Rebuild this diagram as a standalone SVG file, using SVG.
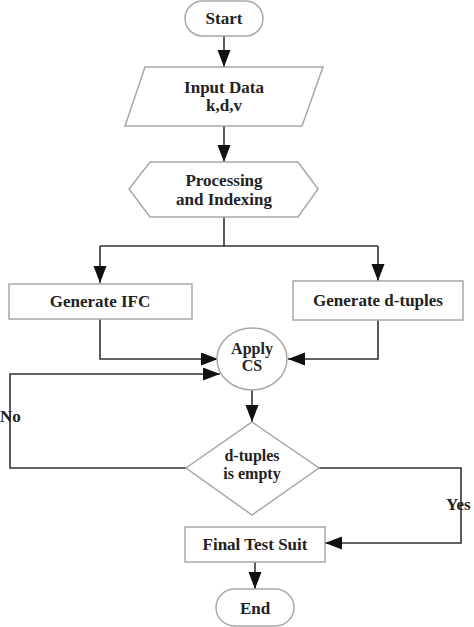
<svg xmlns="http://www.w3.org/2000/svg" width="474" height="627" viewBox="0 0 474 627">
<style>
.node{fill:#fff;stroke:#a8a8a8;stroke-width:1.5}
.t{font-family:"Liberation Serif","Times New Roman",serif;font-weight:bold;font-size:17px;fill:#222;text-anchor:middle}
.s{font-size:16px}
.lbl{font-family:"Liberation Serif","Times New Roman",serif;font-weight:bold;font-size:17px;fill:#222}
.c{fill:none;stroke:#333;stroke-width:1.6}
</style>
<defs>
<marker id="ah" markerUnits="userSpaceOnUse" markerWidth="18" markerHeight="14" refX="17" refY="6.5" orient="auto">
<path d="M0,0 L17,6.5 L0,13 Z" fill="#111"/>
</marker>
</defs>
<rect width="474" height="627" fill="#fff"/>
<g id="connectors">
<path class="c" d="M224,36 V67" marker-end="url(#ah)"/>
<path class="c" d="M224,126 V162" marker-end="url(#ah)"/>
<path class="c" d="M224,217 V246"/>
<path class="c" d="M100,246 H378"/>
<path class="c" d="M100,246 V283" marker-end="url(#ah)"/>
<path class="c" d="M378,246 V281" marker-end="url(#ah)"/>
<path class="c" d="M100,319 V359 H218" marker-end="url(#ah)"/>
<path class="c" d="M378,320 V359 H288" marker-end="url(#ah)"/>
<path class="c" d="M252,390 V422" marker-end="url(#ah)"/>
<path class="c" d="M186,468 H10 V374 H220" marker-end="url(#ah)"/>
<path class="c" d="M319,468 H461 V543 H325" marker-end="url(#ah)"/>
<path class="c" d="M255,562 V589" marker-end="url(#ah)"/>
</g>
<g id="start">
<rect class="node" x="185" y="1" width="78" height="35" rx="17.5"/>
<text class="t" x="224" y="24">Start</text>
</g>
<g id="input">
<polygon class="node" points="145,67 323,67 302,126 125,126"/>
<text class="t" x="224" y="93">Input Data</text>
<text class="t" x="224" y="111">k,d,v</text>
</g>
<g id="processing">
<polygon class="node" points="150,162 298,162 318,189 298,217 150,217 129,189"/>
<text class="t" x="224" y="186">Processing</text>
<text class="t" x="224" y="205">and Indexing</text>
</g>
<g id="ifc">
<rect class="node" x="9" y="284" width="183" height="35"/>
<text class="t" x="100" y="307">Generate IFC</text>
</g>
<g id="dtuples">
<rect class="node" x="293" y="281" width="170" height="39"/>
<text class="t" x="378" y="306">Generate d-tuples</text>
</g>
<g id="applycs">
<ellipse class="node" cx="252" cy="359" rx="35" ry="31"/>
<text class="t s" x="252" y="354">Apply</text>
<text class="t s" x="252" y="371">CS</text>
</g>
<g id="decision">
<polygon class="node" points="252,422 319,468 252,515 186,468"/>
<text class="t s" x="252" y="461">d-tuples</text>
<text class="t s" x="252" y="479">is empty</text>
</g>
<g id="final">
<rect class="node" x="185" y="527" width="140" height="35"/>
<text class="t" x="255" y="550">Final Test Suit</text>
</g>
<g id="end">
<rect class="node" x="216" y="589" width="78" height="37" rx="18.5"/>
<text class="t" x="255" y="614">End</text>
</g>
<text class="lbl" x="0" y="422">No</text>
<text class="lbl" x="446" y="510">Yes</text>
</svg>
